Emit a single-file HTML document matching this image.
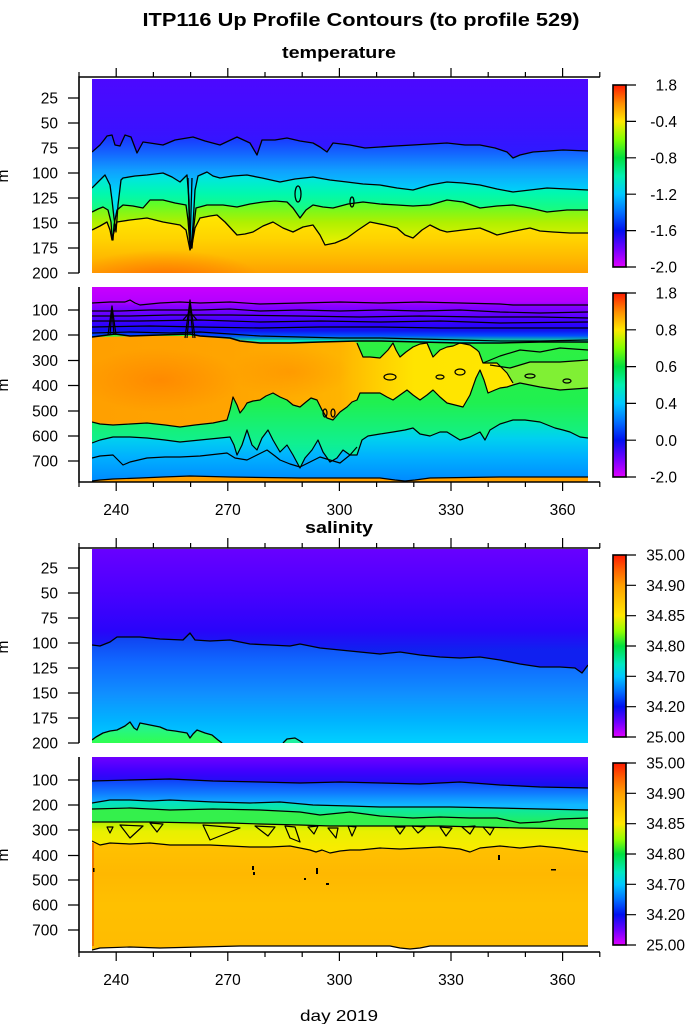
<!DOCTYPE html>
<html><head><meta charset="utf-8"><style>html,body{margin:0;padding:0;background:#fff}svg{display:block}text{font-family:"Liberation Sans",Arial,sans-serif;fill:#000}</style></head>
<body>
<svg width="698" height="1024" viewBox="0 0 698 1024" xmlns="http://www.w3.org/2000/svg">
<defs>
<linearGradient id="cbT" x1="0" y1="0" x2="0" y2="1">
<stop offset="0" stop-color="#ff1a00"/><stop offset=".1" stop-color="#ff8c00"/><stop offset=".2" stop-color="#ffe800"/><stop offset=".3" stop-color="#80ff00"/><stop offset=".4" stop-color="#00e040"/><stop offset=".5" stop-color="#00f0b0"/><stop offset=".6" stop-color="#00c8ff"/><stop offset=".7" stop-color="#0070ff"/><stop offset=".8" stop-color="#0010f0"/><stop offset=".9" stop-color="#7000ff"/><stop offset="1" stop-color="#e000ff"/></linearGradient>
<linearGradient id="cbS" x1="0" y1="0" x2="0" y2="1">
<stop offset="0" stop-color="#ff1a00"/><stop offset=".08" stop-color="#ff6000"/><stop offset=".167" stop-color="#ffa000"/><stop offset=".333" stop-color="#ffe800"/><stop offset=".42" stop-color="#90ff00"/><stop offset=".5" stop-color="#00e040"/><stop offset=".6" stop-color="#00e8c0"/><stop offset=".667" stop-color="#00c8ff"/><stop offset=".75" stop-color="#0070ff"/><stop offset=".833" stop-color="#0010f0"/><stop offset=".92" stop-color="#7000ff"/><stop offset="1" stop-color="#e000ff"/></linearGradient>
<linearGradient id="p1bg" gradientUnits="userSpaceOnUse" x1="0" y1="79" x2="0" y2="160"><stop offset="0" stop-color="#4c08ff"/><stop offset=".6" stop-color="#3c10ff"/><stop offset="1" stop-color="#2a1cff"/></linearGradient>
<linearGradient id="p1a" gradientUnits="userSpaceOnUse" x1="0" y1="135" x2="0" y2="200"><stop offset="0" stop-color="#1a30ff"/><stop offset=".25" stop-color="#1460ff"/><stop offset=".55" stop-color="#10a0ff"/><stop offset=".85" stop-color="#00d0f8"/><stop offset="1" stop-color="#00e0f0"/></linearGradient>
<linearGradient id="p1b" gradientUnits="userSpaceOnUse" x1="0" y1="172" x2="0" y2="225"><stop offset="0" stop-color="#00e0f0"/><stop offset=".4" stop-color="#00f8b0"/><stop offset="1" stop-color="#30ff50"/></linearGradient>
<linearGradient id="p1c" gradientUnits="userSpaceOnUse" x1="0" y1="200" x2="0" y2="245"><stop offset="0" stop-color="#50ff30"/><stop offset=".5" stop-color="#b0f000"/><stop offset="1" stop-color="#f0f000"/></linearGradient>
<linearGradient id="p1d" gradientUnits="userSpaceOnUse" x1="0" y1="215" x2="0" y2="273"><stop offset="0" stop-color="#ffe800"/><stop offset=".4" stop-color="#ffd400"/><stop offset=".75" stop-color="#ffb800"/><stop offset="1" stop-color="#ffa000"/></linearGradient>
<radialGradient id="p1red" cx="0.5" cy="0.5" r="0.5"><stop offset="0" stop-color="#ff5000" stop-opacity=".55"/><stop offset="1" stop-color="#ff5000" stop-opacity="0"/></radialGradient>
<radialGradient id="p2dark" cx="0.5" cy="0.5" r="0.5"><stop offset="0" stop-color="#ff7a00" stop-opacity=".6"/><stop offset="1" stop-color="#ff7a00" stop-opacity="0"/></radialGradient>
<linearGradient id="p2bg" gradientUnits="userSpaceOnUse" x1="0" y1="287" x2="0" y2="340"><stop offset="0" stop-color="#c800ff"/><stop offset=".28" stop-color="#b400ff"/><stop offset=".35" stop-color="#8c00ff"/><stop offset=".55" stop-color="#5a00ff"/><stop offset=".7" stop-color="#3000ff"/><stop offset=".82" stop-color="#1010f0"/><stop offset=".92" stop-color="#0050ff"/><stop offset="1" stop-color="#10c0a0"/></linearGradient>
<linearGradient id="p2low" gradientUnits="userSpaceOnUse" x1="0" y1="420" x2="0" y2="482"><stop offset="0" stop-color="#00e8c0"/><stop offset=".3" stop-color="#00d0f0"/><stop offset=".6" stop-color="#00b0ff"/><stop offset="1" stop-color="#0088ff"/></linearGradient>
<linearGradient id="p2green" gradientUnits="userSpaceOnUse" x1="0" y1="335" x2="0" y2="470"><stop offset="0" stop-color="#30f040"/><stop offset=".5" stop-color="#20f050"/><stop offset=".8" stop-color="#10f090"/><stop offset="1" stop-color="#00e8c0"/></linearGradient>
<linearGradient id="p2or" gradientUnits="userSpaceOnUse" x1="92" y1="0" x2="588" y2="0"><stop offset="0" stop-color="#ffa000"/><stop offset=".28" stop-color="#ffa400"/><stop offset=".5" stop-color="#ffb400"/><stop offset=".58" stop-color="#ffd000"/><stop offset=".65" stop-color="#ffe400"/><stop offset="1" stop-color="#ffe800"/></linearGradient>
<linearGradient id="p3bg" gradientUnits="userSpaceOnUse" x1="0" y1="549" x2="0" y2="650"><stop offset="0" stop-color="#6800ff"/><stop offset=".4" stop-color="#4c00ff"/><stop offset=".8" stop-color="#2a04fa"/><stop offset="1" stop-color="#1020f0"/></linearGradient>
<linearGradient id="p3low" gradientUnits="userSpaceOnUse" x1="0" y1="635" x2="0" y2="743"><stop offset="0" stop-color="#1040f0"/><stop offset=".25" stop-color="#1068ff"/><stop offset=".55" stop-color="#1090ff"/><stop offset=".8" stop-color="#00b4ff"/><stop offset="1" stop-color="#00d0ff"/></linearGradient>
<linearGradient id="p3green" gradientUnits="userSpaceOnUse" x1="0" y1="722" x2="0" y2="743"><stop offset="0" stop-color="#20f0a0"/><stop offset="1" stop-color="#30ff50"/></linearGradient>
<linearGradient id="p4bg" gradientUnits="userSpaceOnUse" x1="0" y1="757" x2="0" y2="785"><stop offset="0" stop-color="#6e00ff"/><stop offset=".5" stop-color="#4000ff"/><stop offset="1" stop-color="#1810f0"/></linearGradient>
<linearGradient id="p4a" gradientUnits="userSpaceOnUse" x1="0" y1="780" x2="0" y2="805"><stop offset="0" stop-color="#1040f8"/><stop offset=".5" stop-color="#1078ff"/><stop offset="1" stop-color="#10b8ff"/></linearGradient>
<linearGradient id="p4b" gradientUnits="userSpaceOnUse" x1="0" y1="800" x2="0" y2="822"><stop offset="0" stop-color="#00e0d0"/><stop offset="1" stop-color="#20f060"/></linearGradient>
<linearGradient id="p4c" gradientUnits="userSpaceOnUse" x1="0" y1="820" x2="0" y2="848"><stop offset="0" stop-color="#a8f000"/><stop offset=".4" stop-color="#e8f000"/><stop offset="1" stop-color="#f8ec00"/></linearGradient>
<linearGradient id="p4d" gradientUnits="userSpaceOnUse" x1="0" y1="843" x2="0" y2="946"><stop offset="0" stop-color="#ffc200"/><stop offset=".3" stop-color="#ffb800"/><stop offset=".6" stop-color="#ffc000"/><stop offset="1" stop-color="#ffbc00"/></linearGradient>
<clipPath id="c1"><rect x="92" y="79" width="496" height="194"/></clipPath>
<clipPath id="c2"><rect x="92" y="287" width="496" height="195"/></clipPath>
<clipPath id="c3"><rect x="92" y="549" width="496" height="194"/></clipPath>
<clipPath id="c4"><rect x="92" y="757" width="496" height="195"/></clipPath>
</defs>

<text x="361" y="26" font-size="18" font-weight="bold" text-anchor="middle" textLength="437" lengthAdjust="spacingAndGlyphs">ITP116 Up Profile Contours (to profile 529)</text>
<text x="339" y="58" font-size="17" font-weight="bold" text-anchor="middle" textLength="114" lengthAdjust="spacingAndGlyphs">temperature</text>
<text x="339" y="533" font-size="17" font-weight="bold" text-anchor="middle" textLength="68" lengthAdjust="spacingAndGlyphs">salinity</text>
<text x="339" y="1021" font-size="16" text-anchor="middle" textLength="78" lengthAdjust="spacingAndGlyphs">day 2019</text>

<!-- PANEL 1 -->
<g clip-path="url(#c1)">
<rect x="92" y="79" width="496" height="194" fill="url(#p1bg)"/>
<polygon fill="url(#p1a)" points="92,152 100,145 104,140 107,136 112,135 115,145 120,146 125,135 131,137 137,153 143,142 150,143 163,145 175,140 193,137 205,141 220,145 237,137 250,143 257,155 262,140 275,140 287,138 300,141 313,143 320,147 327,152 333,143 350,145 365,148 380,147 395,146 413,145 430,144 447,143 465,145 480,145 495,148 507,152 513,158 520,155 533,152 548,151 563,150 588,151 588,273 92,273"/>
<polygon fill="url(#p1b)" points="92,188 98,182 105,175 110,185 112,200 114,218 116,232 118,205 121,180 123,178 135,176 147,175 155,174 163,173 172,177 180,182 187,175 189,200 190,240 191,248 193,225 195,190 198,176 207,172 213,176 220,178 233,176 247,175 262,178 280,182 295,179 313,177 330,180 347,182 363,184 380,185 397,188 413,190 430,185 447,182 463,183 480,185 497,189 513,192 530,190 547,188 567,189 588,190 588,273 92,273"/>
<polygon fill="url(#p1c)" points="92,212 98,209 103,207 108,210 111,222 112,236 113,240 114,225 117,210 123,205 133,206 143,208 150,200 163,200 175,203 186,205 188,220 190,246 192,248 194,225 196,208 207,205 223,205 237,207 250,204 263,202 275,201 287,202 293,208 300,218 306,210 313,205 323,207 333,208 348,204 363,202 380,204 397,205 413,206 430,205 447,200 463,202 480,208 497,206 513,205 530,208 547,212 567,210 588,210 588,273 92,273"/>
<polygon fill="url(#p1d)" points="92,230 100,226 107,222 110,230 112,240 114,232 117,222 130,220 147,218 163,222 180,225 186,230 189,245 190,250 192,245 195,228 200,218 210,216 217,215 225,222 237,235 245,234 253,232 263,226 273,222 283,228 293,232 303,227 313,225 320,235 325,245 335,243 347,238 358,230 370,222 385,225 397,228 405,235 413,238 422,230 430,225 440,230 447,232 463,230 480,228 490,232 497,235 510,232 530,228 540,231 553,232 570,233 588,233 588,273 92,273"/>
<ellipse cx="165" cy="278" rx="95" ry="28" fill="url(#p1red)"/>
<g fill="none" stroke="#000" stroke-width="1.3" stroke-linejoin="round">
<polyline points="92,152 100,145 104,140 107,136 112,135 115,145 120,146 125,135 131,137 137,153 143,142 150,143 163,145 175,140 193,137 205,141 220,145 237,137 250,143 257,155 262,140 275,140 287,138 300,141 313,143 320,147 327,152 333,143 350,145 365,148 380,147 395,146 413,145 430,144 447,143 465,145 480,145 495,148 507,152 513,158 520,155 533,152 548,151 563,150 588,151"/>
<polyline points="92,188 98,182 105,175 110,185 112,200 114,218 116,232 118,205 121,180 123,178 135,176 147,175 155,174 163,173 172,177 180,182 187,175 189,200 190,240 191,248 193,225 195,190 198,176 207,172 213,176 220,178 233,176 247,175 262,178 280,182 295,179 313,177 330,180 347,182 363,184 380,185 397,188 413,190 430,185 447,182 463,183 480,185 497,189 513,192 530,190 547,188 567,189 588,190"/>
<polyline points="92,212 98,209 103,207 108,210 111,222 112,236 113,240 114,225 117,210 123,205 133,206 143,208 150,200 163,200 175,203 186,205 188,220 190,246 192,248 194,225 196,208 207,205 223,205 237,207 250,204 263,202 275,201 287,202 293,208 300,218 306,210 313,205 323,207 333,208 348,204 363,202 380,204 397,205 413,206 430,205 447,200 463,202 480,208 497,206 513,205 530,208 547,212 567,210 588,210"/>
<polyline points="92,230 100,226 107,222 110,230 112,240 114,232 117,222 130,220 147,218 163,222 180,225 186,230 189,245 190,250 192,245 195,228 200,218 210,216 217,215 225,222 237,235 245,234 253,232 263,226 273,222 283,228 293,232 303,227 313,225 320,235 325,245 335,243 347,238 358,230 370,222 385,225 397,228 405,235 413,238 422,230 430,225 440,230 447,232 463,230 480,228 490,232 497,235 510,232 530,228 540,231 553,232 570,233 588,233"/>
<polyline points="188,178 190,245 192,178"/>
<ellipse cx="298" cy="194" rx="3" ry="8"/>
<ellipse cx="352" cy="202" rx="2" ry="5"/>
</g>
</g>

<!-- PANEL 2 -->
<g clip-path="url(#c2)">
<rect x="92" y="287" width="496" height="60" fill="url(#p2bg)"/>
<rect x="92" y="340" width="496" height="142" fill="url(#p2low)"/>
<polygon fill="url(#p2green)" points="92,337 100,336 115,334 130,336 160,335 190,334 200,336 230,338 240,341 260,343 290,343 320,342 357,341 380,341 420,342 460,343 500,343 540,342 588,342 588,438 580,437 570,432 563,430 555,428 540,422 525,420 513,420 500,424 490,430 485,440 480,432 470,437 460,440 447,432 440,432 430,436 420,434 413,428 405,430 393,432 380,434 368,436 362,440 357,455 350,455 343,450 337,458 330,462 323,452 318,440 312,450 305,458 300,468 293,455 287,445 280,452 273,440 268,430 262,438 257,450 252,445 247,430 242,445 237,455 234,445 230,437 220,438 200,440 180,442 165,440 147,438 130,437 113,437 100,440 92,443"/>
<polygon fill="#90f030" opacity=".85" points="490,365 510,368 530,362 560,362 588,360 588,388 560,390 540,387 520,383 507,387 495,390"/>
<polygon fill="url(#p2or)" points="92,337 150,336 200,336 230,339 260,342 300,342 340,342 352,341 357,343 360,350 363,357 370,357 380,358 388,350 393,343 396,350 400,357 406,352 413,347 420,344 427,343 430,350 433,357 440,350 447,347 453,346 460,343 470,345 477,350 479,352 483,363 490,363 497,363 500,366 507,373 513,383 513,385 507,387 500,388 495,390 488,393 484,380 480,370 476,378 470,395 463,407 455,405 447,403 440,397 433,390 427,395 420,400 413,395 407,390 400,395 393,400 387,397 380,393 370,393 360,393 357,400 352,402 347,407 340,412 333,420 327,418 322,410 317,400 311,398 306,402 300,407 293,405 287,400 280,397 273,393 266,396 260,400 253,401 247,403 244,408 240,413 237,405 233,397 230,410 227,420 213,423 195,425 180,427 165,425 147,423 130,424 113,425 100,424 92,422"/>
<ellipse cx="160" cy="380" rx="80" ry="32" fill="url(#p2dark)"/>
<ellipse cx="290" cy="372" rx="60" ry="26" fill="url(#p2dark)" opacity=".6"/>
<polygon fill="#ffa000" points="92,482 93,481 100,480 113,479 140,478 163,477 190,476 230,477 300,478 380,478 395,480 405,481 415,480 430,478 500,477 588,477 588,482"/>
<g fill="none" stroke="#000" stroke-width="1.2" stroke-linejoin="round">
<polyline points="92,303 110,302 125,302 130,300 135,303 140,305 160,303 180,302 200,303 230,302 260,304 300,303 340,302 380,303 420,302 460,303 500,304 513,305 540,305 588,305"/>
<polyline points="92,311 120,311 150,310 200,310 230,309 260,311 300,310 340,311 380,310 420,311 460,310 500,312 540,313 588,312"/>
<polyline points="92,316 130,316 170,315 230,315 300,316 360,317 420,316 480,317 540,317 588,318"/>
<polyline points="92,321 140,321 200,320 260,322 320,321 380,322 440,321 500,323 588,322"/>
<polyline points="92,327 150,326 200,327 260,328 320,327 380,327 440,328 500,328 588,328"/>
<polyline points="92,333 130,332 170,333 200,332 230,334 260,336 300,337 340,338 380,338 420,339 460,340 500,341 540,341 588,340"/>
<polyline stroke-width="1.5" points="92,337 100,336 115,334 130,336 160,335 190,334 200,336 230,338 240,341 260,343 290,343 320,342 357,341 380,341 420,342 460,343 500,343 540,342 588,342"/>
<polyline points="357,343 360,350 363,357 370,357 380,358 388,350 393,343 396,350 400,357 406,352 413,347 420,344 427,343 430,350 433,357 440,350 447,347 453,346 460,343 470,345 477,350 479,352 483,363 490,363 497,363 500,366 507,373 513,383"/>
<polyline points="92,422 100,424 113,425 130,424 147,423 165,425 180,427 195,425 213,423 227,420 230,410 233,397 237,405 240,413 244,408 247,403 253,401 260,400 266,396 273,393 280,397 287,400 293,405 300,407 306,402 311,398 317,400 322,410 327,418 333,420 340,412 347,407 352,402 357,400 360,393 370,393 380,393 387,397 393,400 400,395 407,390 413,395 420,400 427,395 433,390 440,397 447,403 455,405 463,407 470,395 476,378 480,370 484,380 488,393 495,390 500,388 507,387 513,385 520,383 540,387 560,390 588,388"/>
<polyline points="92,443 100,440 113,437 130,437 147,438 165,440 180,442 200,440 220,438 230,437 234,445 237,455 242,445 247,430 252,445 257,450 262,438 268,430 273,440 280,452 287,445 293,455 300,468 305,458 312,450 318,440 323,452 330,462 337,458 343,450 350,455 357,455 362,440 368,436 380,434 393,432 405,430 413,428 420,434 430,436 440,432 447,432 460,440 470,437 480,432 485,440 490,430 500,424 513,420 525,420 540,422 555,428 563,430 570,432 580,437 588,438"/>
<polyline points="92,458 100,456 113,455 118,460 123,465 130,462 147,458 165,457 180,457 200,456 227,453 235,458 247,460 257,455 267,450 275,456 280,460 290,464 300,467 310,462 320,457 330,460 340,463 350,455 357,447"/>
<polyline points="483,363 500,356 520,350 540,352 560,348 588,350"/>
<polyline points="490,365 510,368 530,362 560,362 588,360"/>
<polyline points="79,482 92,481 100,480 113,479 140,478 163,477 190,476 230,477 300,478 380,478 395,480 405,481 415,480 430,478 500,477 588,477"/>
<polyline points="108,335 112,306 116,335"/><polyline points="110,335 112,310 114,335"/>
<polyline points="185,338 190,300 195,338"/><polyline points="187,338 190,305 193,338"/><polyline points="183,320 190,312 197,320"/>
<ellipse cx="390" cy="377" rx="6" ry="3"/><ellipse cx="440" cy="377" rx="4" ry="2"/><ellipse cx="460" cy="372" rx="5" ry="3"/>
<ellipse cx="530" cy="376" rx="5" ry="2"/><ellipse cx="567" cy="381" rx="4" ry="2"/>
<ellipse cx="325" cy="413" rx="2" ry="4"/><ellipse cx="333" cy="413" rx="2" ry="4"/>
</g>
</g>

<!-- PANEL 3 -->
<g clip-path="url(#c3)">
<rect x="92" y="549" width="496" height="194" fill="url(#p3bg)"/>
<polygon fill="url(#p3low)" points="92,645 100,646 110,642 117,637 130,637 140,637 160,639 183,640 187,636 190,633 195,640 210,641 230,640 250,644 270,645 290,646 300,644 320,648 340,650 360,652 380,654 400,652 420,655 440,657 460,658 480,657 500,660 520,664 540,667 560,667 575,668 582,673 588,665 588,743 92,743"/>
<polygon fill="url(#p3green)" points="92,740 96,737 103,733 110,731 117,730 125,726 130,722 134,728 137,730 140,723 150,725 160,727 167,730 175,731 187,733 190,738 193,734 197,730 205,733 212,735 218,740 222,743 92,743"/>
<polygon fill="#20f0a0" points="283,743 287,739 295,738 300,741 303,743"/>
<g fill="none" stroke="#000" stroke-width="1.3" stroke-linejoin="round">
<polyline points="92,645 100,646 110,642 117,637 130,637 140,637 160,639 183,640 187,636 190,633 195,640 210,641 230,640 250,644 270,645 290,646 300,644 320,648 340,650 360,652 380,654 400,652 420,655 440,657 460,658 480,657 500,660 520,664 540,667 560,667 575,668 582,673 588,665"/>
<polyline points="92,740 96,737 103,733 110,731 117,730 125,726 130,722 134,728 137,730 140,723 150,725 160,727 167,730 175,731 187,733 190,738 193,734 197,730 205,733 212,735 218,740 222,743"/>
<polyline points="283,743 287,739 295,738 300,741 303,743"/>
</g>
</g>

<!-- PANEL 4 -->
<g clip-path="url(#c4)">
<rect x="92" y="757" width="496" height="195" fill="url(#p4bg)"/>
<polygon fill="url(#p4a)" points="92,781 130,780 170,779 213,781 260,782 300,783 340,782 380,783 420,784 460,782 500,785 540,787 588,788 588,952 92,952"/>
<polygon fill="url(#p4b)" points="92,803 110,800 130,800 150,801 170,800 213,802 250,803 280,802 313,805 350,806 380,807 413,807 450,807 497,808 540,809 588,810 588,952 92,952"/>
<polygon fill="#34f04c" points="92,809 130,808 170,810 213,809 260,810 300,812 320,815 350,812 380,816 413,818 440,817 470,818 497,818 520,823 540,822 560,819 588,818 588,952 92,952"/>
<polygon fill="url(#p4c)" points="92,822 120,822 150,822 200,823 230,823 260,824 300,825 330,826 360,826 400,826 440,826 480,827 520,828 588,829 588,952 92,952"/>
<polygon fill="url(#p4d)" points="92,841 100,845 110,843 130,844 150,843 170,845 190,845 210,845 230,846 250,847 270,847 290,846 300,848 310,850 316,852 322,850 330,853 340,851 350,850 360,850 380,848 400,849 420,848 440,847 460,849 470,852 480,848 500,846 520,848 540,846 560,848 580,851 588,852 588,952 92,952"/>
<rect x="92" y="843" width="2" height="103" fill="#f07800"/>
<polygon fill="#fff" points="92,952 92,950 100,948 130,947 160,948 200,947 240,946 300,946 390,946 400,948 410,949 420,948 430,946 500,946 588,946 588,952"/>
<g fill="none" stroke="#000" stroke-width="1.2" stroke-linejoin="round">
<polyline points="92,781 130,780 170,779 213,781 260,782 300,783 340,782 380,783 420,784 460,782 500,785 540,787 588,788"/>
<polyline points="92,803 110,800 130,800 150,801 170,800 213,802 250,803 280,802 313,805 350,806 380,807 413,807 450,807 497,808 540,809 588,810"/>
<polyline points="92,809 130,808 170,810 213,809 260,810 300,812 320,815 350,812 380,816 413,818 440,817 470,818 497,818 520,823 540,822 560,819 588,818"/>
<polyline points="92,822 120,822 150,822 200,823 230,823 260,824 300,825 330,826 360,826 400,826 440,826 480,827 520,828 588,829"/>
<polyline points="92,841 100,845 110,843 130,844 150,843 170,845 190,845 210,845 230,846 250,847 270,847 290,846 300,848 310,850 316,852 322,850 330,853 340,851 350,850 360,850 380,848 400,849 420,848 440,847 460,849 470,852 480,848 500,846 520,848 540,846 560,848 580,851 588,852"/>
<polygon points="107,827 113,827 110,833"/><polygon points="120,825 143,826 130,838"/><polygon points="150,823 163,824 157,832"/>
<polygon points="203,825 210,840 240,828"/><polygon points="255,826 275,827 268,836"/><polygon points="285,826 295,827 300,842 290,838"/>
<polygon points="308,827 318,826 314,834"/><polygon points="328,828 338,828 336,838"/><polygon points="348,826 356,827 352,836"/>
<polygon points="395,827 405,827 400,834"/><polygon points="412,826 425,827 418,833"/><polygon points="440,827 452,828 446,836"/>
<polygon points="462,827 475,826 470,834"/><polygon points="483,827 494,828 490,835"/>
<polyline points="79,951 92,950 100,948 130,947 160,948 200,947 240,946 300,946 390,946 400,948 410,949 420,948 430,946 500,946 588,946"/>
</g>
<g fill="#000"><rect x="252" y="866" width="2" height="4"/><rect x="253" y="872" width="2" height="3"/><rect x="316" y="868" width="2" height="6"/><rect x="326" y="883" width="3" height="2"/><rect x="304" y="878" width="2" height="2"/><rect x="498" y="855" width="2" height="5"/><rect x="551" y="869" width="5" height="1.5"/><rect x="93" y="868" width="1.5" height="4"/></g>
</g>

<!-- AXES -->
<g fill="none" stroke="#000" stroke-width="1.6">
<path d="M79,273 V77 H600"/>
<path d="M79,287 V482 H600"/>
<path d="M79,743 V548 H600"/>
<path d="M79,757 V952 H600"/>
</g>
<g stroke="#000" stroke-width="1.2">
<path d="M79,77V72 M116.2,77V68 M153.4,77V72 M190.6,77V72 M227.8,77V68 M265,77V72 M302.2,77V72 M339.4,77V68 M376.6,77V72 M413.8,77V72 M451,77V68 M488.2,77V72 M525.4,77V72 M562.6,77V68 M599.8,77V72"/>
<path d="M79,548V543 M116.2,548V538 M153.4,548V543 M190.6,548V543 M227.8,548V538 M265,548V543 M302.2,548V543 M339.4,548V538 M376.6,548V543 M413.8,548V543 M451,548V538 M488.2,548V543 M525.4,548V543 M562.6,548V538 M599.8,548V543"/>
<path d="M79,482V487 M116.2,482V491 M153.4,482V487 M190.6,482V487 M227.8,482V491 M265,482V487 M302.2,482V487 M339.4,482V491 M376.6,482V487 M413.8,482V487 M451,482V491 M488.2,482V487 M525.4,482V487 M562.6,482V491 M599.8,482V487"/>
<path d="M79,952V957 M116.2,952V961 M153.4,952V957 M190.6,952V957 M227.8,952V961 M265,952V957 M302.2,952V957 M339.4,952V961 M376.6,952V957 M413.8,952V957 M451,952V961 M488.2,952V957 M525.4,952V957 M562.6,952V961 M599.8,952V957"/>
<path d="M68,98H79 M68,123H79 M68,148H79 M68,173H79 M68,198H79 M68,223H79 M68,248H79 M68,273H79"/>
<path d="M68,310H79 M68,335H79 M68,360.5H79 M68,385.5H79 M68,411H79 M68,436H79 M68,461H79"/>
<path d="M68,568H79 M68,593H79 M68,618H79 M68,643H79 M68,668H79 M68,693H79 M68,718H79 M68,743H79"/>
<path d="M68,780H79 M68,805H79 M68,830H79 M68,855.5H79 M68,880H79 M68,905H79 M68,930H79"/>
</g>
<g font-size="15.5" text-anchor="end">
<text x="58" y="103.5">25</text><text x="58" y="128.5">50</text><text x="58" y="153.5">75</text><text x="58" y="178.5">100</text><text x="58" y="203.5">125</text><text x="58" y="228.5">150</text><text x="58" y="253.5">175</text><text x="58" y="278.5">200</text>
<text x="58" y="315.5">100</text><text x="58" y="340.5">200</text><text x="58" y="366">300</text><text x="58" y="391">400</text><text x="58" y="416.5">500</text><text x="58" y="441.5">600</text><text x="58" y="466.5">700</text>
<text x="58" y="573.5">25</text><text x="58" y="598.5">50</text><text x="58" y="623.5">75</text><text x="58" y="648.5">100</text><text x="58" y="673.5">125</text><text x="58" y="698.5">150</text><text x="58" y="723.5">175</text><text x="58" y="748.5">200</text>
<text x="58" y="785.5">100</text><text x="58" y="810.5">200</text><text x="58" y="835.5">300</text><text x="58" y="861">400</text><text x="58" y="885.5">500</text><text x="58" y="910.5">600</text><text x="58" y="935.5">700</text>
</g>
<g font-size="15.5" text-anchor="middle">
<text x="116.2" y="515">240</text><text x="227.8" y="515">270</text><text x="339.4" y="515">300</text><text x="451" y="515">330</text><text x="562.6" y="515">360</text>
<text x="116.2" y="985">240</text><text x="227.8" y="985">270</text><text x="339.4" y="985">300</text><text x="451" y="985">330</text><text x="562.6" y="985">360</text>
</g>
<g font-size="15.5" text-anchor="middle">
<text transform="translate(8,176) rotate(-90)">m</text>
<text transform="translate(8,385) rotate(-90)">m</text>
<text transform="translate(8,647) rotate(-90)">m</text>
<text transform="translate(8,855) rotate(-90)">m</text>
</g>

<!-- COLORBARS -->
<g stroke="#000" stroke-width="1.6">
<rect x="613" y="85" width="13" height="182" fill="url(#cbT)"/>
<rect x="613" y="293" width="13" height="184" fill="url(#cbT)"/>
<rect x="613" y="555" width="13" height="182" fill="url(#cbS)"/>
<rect x="613" y="763" width="13" height="182" fill="url(#cbS)"/>
</g>
<g stroke="#000" stroke-width="1.2">
<path d="M626,85H636 M626,121.4H636 M626,157.8H636 M626,194.2H636 M626,230.6H636 M626,267H636"/>
<path d="M626,293H636 M626,329.8H636 M626,366.6H636 M626,403.4H636 M626,440.2H636 M626,477H636"/>
<path d="M626,555H636 M626,585.3H636 M626,615.7H636 M626,646H636 M626,676.3H636 M626,706.7H636 M626,737H636"/>
<path d="M626,763H636 M626,793.3H636 M626,823.7H636 M626,854H636 M626,884.3H636 M626,914.7H636 M626,945H636"/>
</g>
<g font-size="15.5" text-anchor="end">
<text x="677" y="90.5">1.8</text><text x="677" y="127">-0.4</text><text x="677" y="163.5">-0.8</text><text x="677" y="200">-1.2</text><text x="677" y="236">-1.6</text><text x="677" y="272.5">-2.0</text>
<text x="677" y="298.5">1.8</text><text x="677" y="335.5">0.8</text><text x="677" y="372">0.6</text><text x="677" y="409">0.4</text><text x="677" y="446">0.0</text><text x="677" y="482.5">-2.0</text>
<text x="685" y="560.5">35.00</text><text x="685" y="591">34.90</text><text x="685" y="621">34.85</text><text x="685" y="651.5">34.80</text><text x="685" y="682">34.70</text><text x="685" y="712">34.20</text><text x="685" y="742.5">25.00</text>
<text x="685" y="768.5">35.00</text><text x="685" y="799">34.90</text><text x="685" y="829">34.85</text><text x="685" y="859.5">34.80</text><text x="685" y="890">34.70</text><text x="685" y="920">34.20</text><text x="685" y="950.5">25.00</text>
</g>
</svg>
</body></html>
